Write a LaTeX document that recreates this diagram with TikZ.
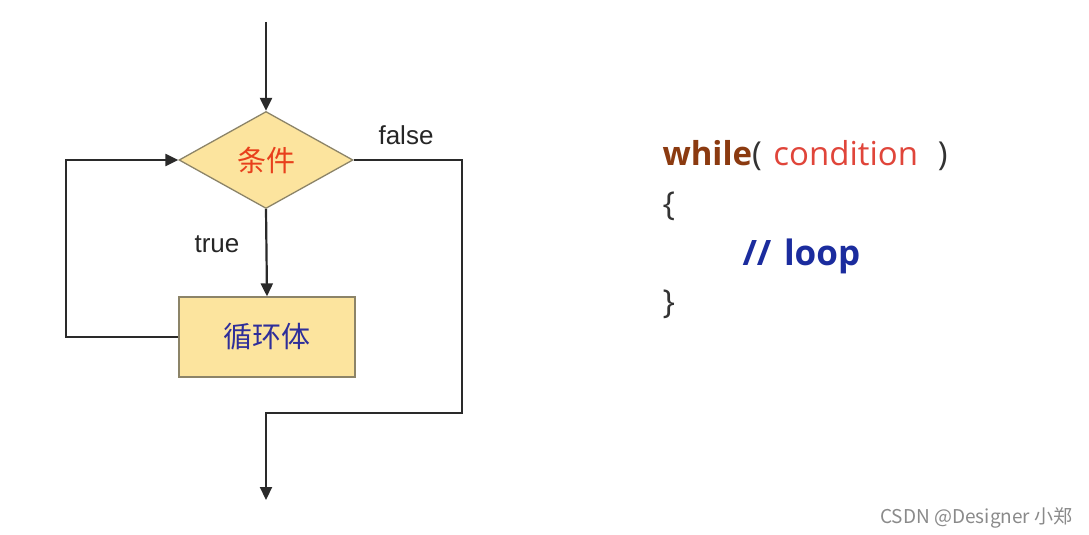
\documentclass[tikz,border=0pt]{standalone}
\usepackage{fontspec}
\setmainfont{Liberation Sans}
\newfontfamily\cjk{Noto Sans CJK SC}
\newfontfamily\codefont{Open Sans}
\usetikzlibrary{shapes.geometric,arrows.meta}
\definecolor{boxfill}{HTML}{FCE49E}
\definecolor{boxborder}{HTML}{8C8468}
\definecolor{linecol}{HTML}{2A2A2A}
\definecolor{condcol}{HTML}{E8401C}
\definecolor{bodycol}{HTML}{2E2E9A}
\definecolor{whilebrown}{HTML}{8B3A10}
\definecolor{condred}{HTML}{E0453A}
\definecolor{codegrey}{HTML}{333333}
\definecolor{loopblue}{HTML}{1B2C9E}
\definecolor{wmgrey}{HTML}{8A8A8A}
\begin{document}
\begin{tikzpicture}[x=1pt,y=-1pt,
  line/.style={line width=2.2pt, draw=linecol},
  arr/.style={line, -{Triangle[width=12pt,length=13pt]}},
  flowshape/.style={fill=boxfill, draw=boxborder, line width=1.3pt, inner sep=0pt},
  lbl/.style={font=\fontsize{26}{30}\selectfont, text=black!85},
  code/.style={anchor=base west, font=\codefont\fontsize{33}{38}\selectfont}]
\useasboundingbox[fill=white] (0,0) rectangle (1089,535);

\node[flowshape, shape=diamond, minimum width=174pt, minimum height=97pt, aspect=1.78,
      font=\cjk\fontsize{29}{32}\selectfont, text=condcol] (cond) at (266,160) {条件};
\node[flowshape, shape=rectangle, minimum width=176pt, minimum height=80pt,
      font=\cjk\fontsize{29}{32}\selectfont, text=bodycol] (body) at (267,337) {循环体};

\coordinate (top) at (266,22);
\coordinate (fr) at (462,160);
\coordinate (fb) at (462,413);
\coordinate (bl) at (266,413);
\coordinate (end) at (266,500);
\coordinate (lb) at (66,337);
\coordinate (lt) at (66,160);

\draw[arr] (top) -- (cond.north);
\draw[arr] (cond.south) -- (body.north);
\draw[arr] (cond.east) -- (fr) -- (fb) -- (bl) -- (end);
\draw[arr] (body.west) -- (lb) -- (lt) -- (cond.west);

\node[lbl] (false) at (406,135) {false};
\node[lbl] (true) at (217,244) {true};

\node[code] (c1) at (659,165) {\textcolor{whilebrown}{\bfseries while}\textcolor{codegrey}{(}\hspace{0.35em}\textcolor{condred}{condition}\hspace{0.6em}\textcolor{codegrey}{)}};
\node[code, text=codegrey] (c2) at (659,215) {\{};
\node[code, text=loopblue, font=\codefont\fontsize{35}{40}\selectfont] (c3) at (739,265) {\bfseries //\hspace{0.1em} loop};
\node[code, text=codegrey] (c4) at (659,313) {\}};

\node[anchor=base east, font=\cjk\fontsize{19}{21}\selectfont, text=wmgrey] (wm) at (1076,523) {CSDN @Designer 小郑};
\end{tikzpicture}
\end{document}
